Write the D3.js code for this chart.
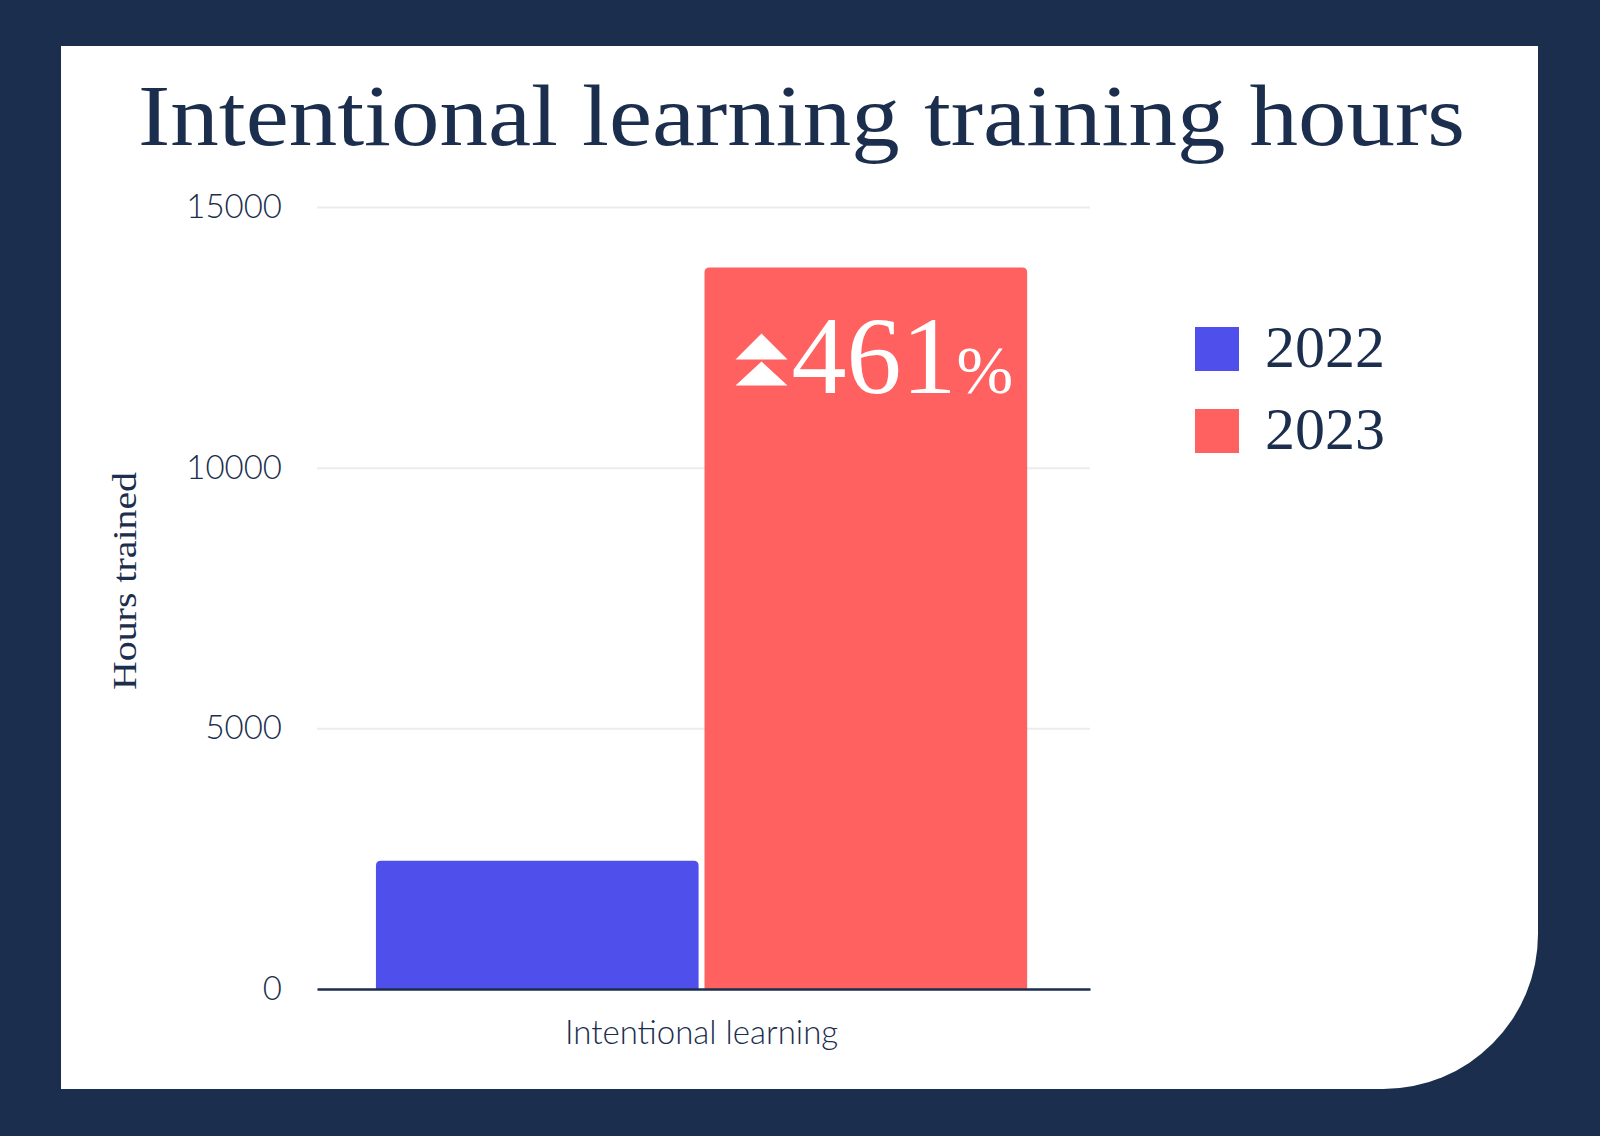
<!DOCTYPE html>
<html lang="en">
<head>
<meta charset="utf-8">
<script src="https://d3js.org/d3.v7.min.js"></script>
<style>
  body { margin: 0; background: #1b2e4d; }
  .tick text { font-family: Lato, sans-serif; font-weight: 300; font-size: 33px; fill: #1b2e4d; }
  .serif { font-family: "Liberation Serif", "DejaVu Serif", serif; }
</style>
</head>
<body>
<div id="chart"></div>
<script>
var categories = ["Intentional learning"];
var years = ["2022", "2023"];
var values2022 = [2460];
var values2023 = [13840];
var yTicks = [0, 5000, 10000, 15000];
var changeLabel = "461";

var W = 1600, H = 1136;
var navy = "#1b2e4d";
var color = d3.scaleOrdinal().domain(years).range(["#4f4fec", "#ff6161"]);

var svg = d3.select("#chart").append("svg")
    .attr("width", W).attr("height", H);

svg.append("rect").attr("width", W).attr("height", H).attr("fill", navy);

// white card, only bottom-right corner rounded
var px0 = 61, py0 = 46, px1 = 1538, py1 = 1089, r = 155;
svg.append("path")
    .attr("fill", "#fff")
    .attr("d", "M" + px0 + "," + py0 + "H" + px1 + "V" + (py1 - r) +
        "A" + r + "," + r + " 0 0 1 " + (px1 - r) + "," + py1 + "H" + px0 + "Z");

svg.append("text")
    .attr("class", "serif")
    .attr("x", 138).attr("y", 145)
    .attr("font-size", 86)
    .attr("textLength", 1327)
    .attr("lengthAdjust", "spacingAndGlyphs")
    .attr("fill", navy)
    .text("Intentional learning training hours");

var plotL = 317, plotR = 1090, plotT = 207, plotB = 989;

var y = d3.scaleLinear().domain([0, 15000]).range([plotB, plotT]);
var x0 = d3.scaleBand().domain(categories).range([plotL, plotR])
    .paddingInner(0).paddingOuter(0.0935).align(0.484);
var x1 = d3.scaleBand().domain(years).range([0, x0.bandwidth()]).paddingInner(0.018);

// gridlines + y labels
var yAxis = svg.append("g")
    .attr("transform", "translate(" + plotL + ",0)")
    .call(d3.axisLeft(y).tickValues(yTicks).tickSize(-(plotR - plotL)).tickPadding(35).tickFormat(d3.format("d")));
yAxis.select(".domain").remove();
yAxis.selectAll(".tick line").attr("stroke", "#ececec").attr("stroke-width", 2);
yAxis.selectAll(".tick").filter(function(d) { return d === 0; }).select("line").remove();

svg.append("text")
    .attr("class", "serif")
    .attr("transform", "translate(136,581) rotate(-90)")
    .attr("text-anchor", "middle")
    .attr("font-size", 34)
    .attr("textLength", 218)
    .attr("lengthAdjust", "spacingAndGlyphs")
    .attr("fill", navy)
    .text("Hours trained");

var rows = categories.map(function(c, i) {
    return { cat: c, vals: [{ year: "2022", v: values2022[i] }, { year: "2023", v: values2023[i] }] };
});

function topRounded(x, yTop, w, h, rr) {
    return "M" + x + "," + (yTop + h) + "V" + (yTop + rr) +
        "Q" + x + "," + yTop + " " + (x + rr) + "," + yTop +
        "H" + (x + w - rr) + "Q" + (x + w) + "," + yTop + " " + (x + w) + "," + (yTop + rr) +
        "V" + (yTop + h) + "Z";
}

var groups = svg.selectAll(".grp").data(rows).enter().append("g")
    .attr("transform", function(d) { return "translate(" + x0(d.cat) + ",0)"; });

groups.selectAll("path").data(function(d) { return d.vals; }).enter().append("path")
    .attr("fill", function(d) { return color(d.year); })
    .attr("d", function(d) {
        return topRounded(x1(d.year), y(d.v), x1.bandwidth(), plotB - y(d.v), 5);
    });

// x axis
var xAxis = svg.append("g")
    .attr("transform", "translate(0," + plotB + ")")
    .call(d3.axisBottom(x0).tickSize(0).tickPadding(32));
xAxis.select(".domain").attr("stroke", navy).attr("stroke-width", 2.5);
xAxis.selectAll(".tick text").attr("dy", "0.71em");

// annotation on 2023 bar
var ax = x0(categories[0]) + x1("2023");
var ann = svg.append("g").attr("transform", "translate(" + ax + "," + y(values2023[0]) + ")");
ann.append("path").attr("fill", "#fff")
    .attr("d", "M57,66L83,92H31Z M57,94L83,118H31Z");
var t = ann.append("text").attr("class", "serif").attr("fill", "#fff")
    .attr("x", 87).attr("y", 126);
t.append("tspan").attr("font-size", 110).text(changeLabel);
t.append("tspan").attr("font-size", 68).attr("dx", 0).text("%");

// legend
var legend = svg.selectAll(".legend").data(years).enter().append("g")
    .attr("transform", function(d, i) { return "translate(1195," + (327 + i * 82) + ")"; });
legend.append("rect").attr("width", 44).attr("height", 44)
    .attr("fill", function(d) { return color(d); });
legend.append("text").attr("class", "serif")
    .attr("x", 70).attr("y", 40)
    .attr("font-size", 60)
    .attr("fill", navy)
    .text(function(d) { return d; });
</script>
</body>
</html>
